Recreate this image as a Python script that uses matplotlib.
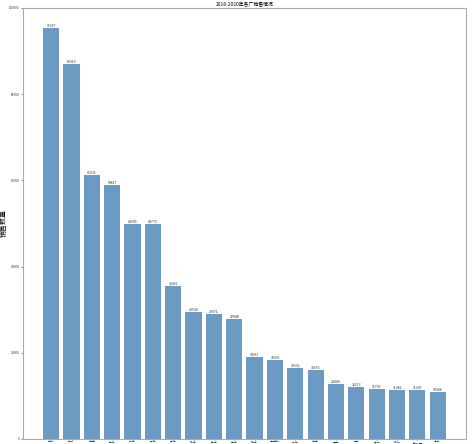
import matplotlib
matplotlib.use("Agg")
import matplotlib.pyplot as plt

plt.rcParams['font.family'] = ['Noto Sans CJK SC', 'DejaVu Sans']

factories = ["上汽大众", "一汽大众", "上汽通用", "东风日产", "吉利汽车", "长城汽车",
             "长安汽车", "广汽本田", "东风本田", "一汽丰田", "广汽丰田", "上汽通用五菱",
             "奇瑞汽车", "北京奔驰", "华晨宝马", "比亚迪", "长安福特", "广汽传祺",
             "东风悦达起亚", "北京现代"]
sales = [95357, 86913, 61231, 58817, 49990, 49775, 35491, 29534, 28971, 27848,
         18967, 18339, 16532, 15973, 12840, 12113, 11709, 11382, 11330, 10944]
title = "2018-2020年各厂销售情况"
ylabel = "销售数量"
yticks = [0, 20000, 40000, 60000, 80000, 100000]

fig = plt.figure(figsize=(4.74, 4.44), dpi=100)
ax = fig.add_axes([0.0485, 0.0113, 0.9345, 0.9707])
x = list(range(len(factories)))
bars = ax.bar(x, sales, width=0.8, color='steelblue', alpha=0.8)
for xi, v in zip(x, sales):
    ax.text(xi, v, str(v), ha='center', va='bottom', fontsize=2.5, color='#333333')
ax.set_xticks(x)
ax.set_xticklabels(factories, fontsize=1.2)
ax.set_yticks(yticks)
ax.set_yticklabels([str(t) for t in yticks], fontsize=2.3)
ax.set_ylim(0, 100000)
ax.tick_params(axis='y', length=1.5, width=0.4, pad=1, colors='#333333')
ax.tick_params(axis='x', length=1, width=0.4, pad=0.3, colors='#333333')
ax.set_title(title, fontsize=3.5, pad=1)
ax.set_ylabel(ylabel, fontsize=5, labelpad=1)
for s in ax.spines.values():
    s.set_color('#aaaaaa')
    s.set_linewidth(0.8)
fig.savefig("out.png", dpi=100)
